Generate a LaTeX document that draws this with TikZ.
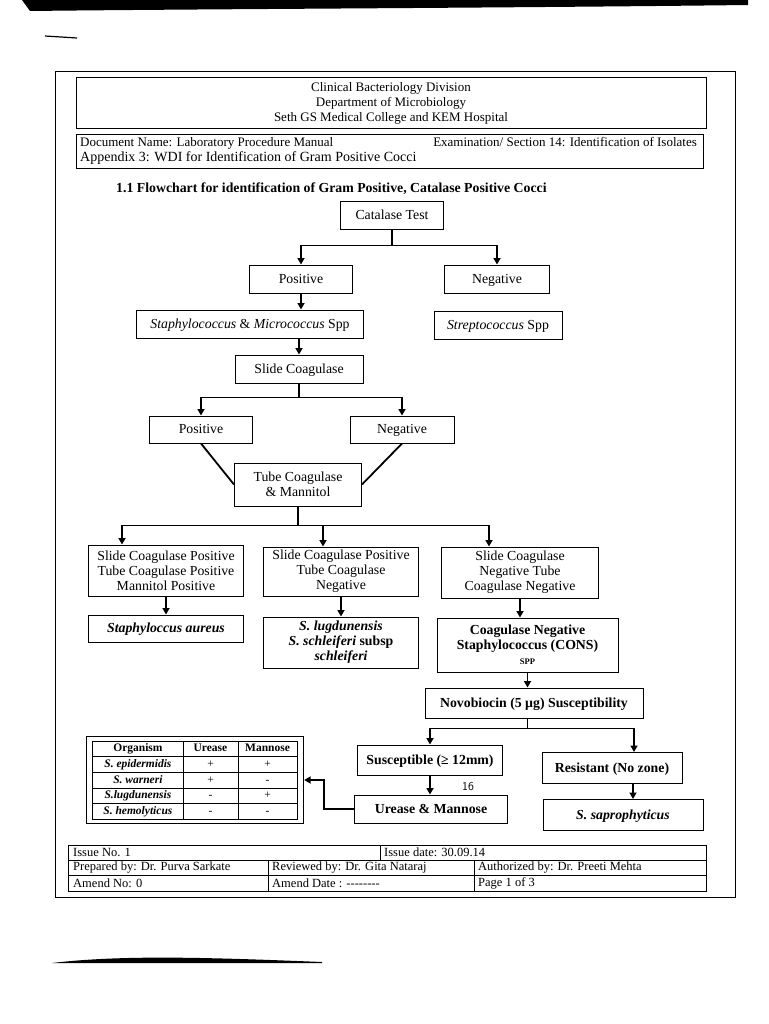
\documentclass[tikz,border=0pt]{standalone}
\usepackage{fontspec}
\setmainfont{Liberation Serif}
\usepackage{array}
\usetikzlibrary{arrows.meta}

\newcommand{\flowfont}{\fontsize{13.8}{15}\selectfont}
\newcommand{\headfont}{\fontsize{13}{15}\selectfont}
\newcommand{\appxfont}{\fontsize{14}{16}\selectfont}
\newcommand{\tablefont}{\fontsize{11.5}{15}\selectfont}
\newcommand{\footfont}{\fontsize{12.5}{15}\selectfont}
\newcommand{\blankdate}{-\kern0pt-\kern0pt-\kern0pt-\kern0pt-\kern0pt-\kern0pt-\kern0pt-}
\newcolumntype{C}[1]{>{\centering\arraybackslash}p{#1}}
\setlength{\arrayrulewidth}{0.6pt}
\setlength{\tabcolsep}{2pt}

\begin{document}
\begin{tikzpicture}[x=1pt,y=-1pt,
  box/.style={draw,line width=1pt,align=center,inner sep=0pt,font=\flowfont},
  boldbox/.style={box,font=\bfseries\flowfont},
  oneline/.style={text height=10.5pt,text depth=2.5pt},
  boxsize/.style 2 args={minimum width=#1pt,minimum height=#2pt},
  link/.style={line width=1.8pt},
  arrow/.style={link,-{Triangle[length=6.5pt,width=7pt]}},
  frame/.style={line width=0.9pt},
  label/.style={inner sep=0pt,anchor=west}]
  \useasboundingbox (0,0) rectangle (768,1024);
  % edges of the scanned sheet
  \fill (22,0) -- (748,0) -- (748,5) .. controls (500,8) and (200,9) .. (30,11) -- cycle;
  \draw[line width=1.2pt] (45,36) -- (77,38);
  \fill (52,963) .. controls (120,955) and (200,957) .. (322,962) -- (322,963) -- cycle;
  \draw[frame] (55,71) rectangle (735,897);

  % header
  \draw[frame] (76,77) rectangle (706,128);
  \node[font=\headfont,align=center,inner sep=0pt] (division) at (391,103)
    {Clinical Bacteriology Division\\Department of Microbiology\\Seth GS Medical College and KEM Hospital};
  \draw[frame] (76,134) rectangle (703,168);
  \node[label,font=\headfont] (docname) at (80,143) {Document Name: Laboratory Procedure Manual};
  \node[label,anchor=east,font=\headfont] (section) at (697,142) {Examination/ Section 14: Identification of Isolates};
  \node[label,font=\appxfont] (appendix) at (80,158) {Appendix 3: WDI for Identification of Gram Positive Cocci};
  \node[label,font=\bfseries\flowfont] (title) at (116,189) {1.1 Flowchart for identification of Gram Positive, Catalase Positive Cocci};

  % catalase
  \node[box,oneline,boxsize={103}{28}] (catalase) at (392,216) {Catalase Test};
  \node[box,oneline,boxsize={103}{28}] (cpos) at (301,279) {Positive};
  \node[box,oneline,boxsize={105}{28}] (cneg) at (497,279) {Negative};
  \node[box,oneline,boxsize={227}{28}] (staphmicro) at (250,324) {\textit{Staphylococcus} \& \textit{Micrococcus} Spp};
  \node[box,oneline,boxsize={128}{28}] (strepto) at (498,325) {\textit{Streptococcus} Spp};
  \draw[link] (catalase.south) -- ++(0,15) coordinate (catfork);
  \draw[arrow] (catfork) -| (cpos.north);
  \draw[arrow] (catfork) -| (cneg.north);
  \draw[arrow] (cpos.south) -- (cpos.south |- staphmicro.north);

  % slide and tube coagulase
  \node[box,oneline,boxsize={128}{28}] (slidecoag) at (299,369) {Slide Coagulase};
  \node[box,oneline,boxsize={103}{27}] (spos) at (201,429.5) {Positive};
  \node[box,oneline,boxsize={104}{27}] (sneg) at (402,429.5) {Negative};
  \node[box,boxsize={127}{43}] (tubecoag) at (298,484.5) {Tube Coagulase\\\& Mannitol};
  \draw[arrow] (staphmicro.south -| slidecoag.north) -- (slidecoag.north);
  \draw[link] (slidecoag.south) -- ++(0,14) coordinate (slidefork);
  \draw[arrow] (slidefork) -| (spos.north);
  \draw[arrow] (slidefork) -| (sneg.north);
  \draw[link] (spos.south) -- (tubecoag.west);
  \draw[link] (sneg.south) -- (tubecoag.east);

  % results
  \node[box,boxsize={155}{51}] (resA) at (166,570.5) {Slide Coagulase Positive\\Tube Coagulase Positive\\Mannitol Positive};
  \node[box,boxsize={155}{49}] (resB) at (341,571.5) {Slide Coagulase Positive\\Tube Coagulase\\Negative};
  \node[box,boxsize={157}{51}] (resC) at (520,572.5) {Slide Coagulase\\Negative Tube\\Coagulase Negative};
  \node[boldbox,oneline,boxsize={155}{27},font=\bfseries\itshape\flowfont] (aureus) at (166,628.5) {Staphyloccus aureus};
  \node[boldbox,boxsize={155}{51}] (lugdun) at (341,642.5)
    {\textit{S. lugdunensis}\\\textit{S. schleiferi} subsp\\\textit{schleiferi}};
  \node[boldbox,boxsize={181}{54}] (cons) at (527.5,645)
    {Coagulase Negative\\Staphylococcus (CONS)\\{\fontsize{8.5}{10}\selectfont SPP}};
  \draw[link] (tubecoag.south) -- ++(0,19) coordinate (tubefork);
  \draw[arrow] (tubefork) -| ([xshift=34pt]resA.north west);
  \draw[arrow] (tubefork) -| ([xshift=-18pt]resB.north);
  \draw[arrow] (tubefork) -| ([xshift=-31pt]resC.north);
  \draw[arrow] (resA.south) -- (aureus.north);
  \draw[arrow] (resB.south) -- (lugdun.north);
  \draw[arrow] (resC.south) -- (resC.south |- cons.north);

  % novobiocin
  \node[boldbox,oneline,boxsize={218}{30}] (novobiocin) at (534,703) {Novobiocin (5 µg) Susceptibility};
  \node[boldbox,oneline,boxsize={145}{30}] (suscept) at (430,760) {Susceptible (≥ 12mm)};
  \node[boldbox,oneline,boxsize={140}{31}] (resist) at (612,768) {Resistant (No zone)};
  \node[boldbox,oneline,boxsize={153}{28}] (ureasemann) at (431,809) {Urease \& Mannose};
  \node[boldbox,oneline,boxsize={160}{31},font=\bfseries\itshape\flowfont] (sapro) at (623,815) {S. saprophyticus};
  \node[font=\sffamily\fontsize{12}{12}\selectfont,inner sep=0pt] (note) at (468,787) {16};
  \draw[arrow] (cons.south) -- (cons.south |- novobiocin.north);
  \draw[link] (novobiocin.south -| cons.south) -- ++(0,10) coordinate (novofork);
  \draw[arrow] (novofork) -| (suscept.north);
  \draw[arrow] (novofork) -| ([xshift=22pt]resist.north);
  \draw[arrow] (suscept.south) -- (suscept.south |- ureasemann.north);
  \draw[arrow] ([xshift=21pt]resist.south) -- ([xshift=21pt]resist.south |- sapro.north);

  % urease and mannose table
  \node[draw,line width=0.9pt,inner xsep=6pt,inner ysep=4pt,font=\tablefont] (organisms) at (195,780) {%
    \begin{tabular}{|C{86pt}|C{50pt}|C{55pt}|}
      \hline
      \textbf{Organism} & \textbf{Urease} & \textbf{Mannose}\\ \hline
      \textbf{\textit{S. epidermidis}} & + & + \\ \hline
      \textbf{\textit{S. warneri}} & + & - \\ \hline
      \textbf{\textit{S.lugdunensis}} & - & + \\ \hline
      \textbf{\textit{S. hemolyticus}} & - & - \\ \hline
    \end{tabular}};
  \draw[arrow] (ureasemann.west) -- ++(-30,0) |- (organisms.east);

  % footer
  \draw[frame] (68,845) rectangle (706,891);
  \draw[frame] (68,860) -- (706,860);
  \draw[frame] (68,875) -- (706,875);
  \draw[frame] (380,845) -- (380,860);
  \draw[frame] (268,860) -- (268,891);
  \draw[frame] (474,860) -- (474,891);
  \node[label,font=\footfont] (issue) at (73,852.5) {Issue No. 1};
  \node[label,font=\footfont] (issuedate) at (384,852.5) {Issue date: 30.09.14};
  \node[label,font=\footfont] (prepared) at (73,867.5) {Prepared by: Dr. Purva Sarkate};
  \node[label,font=\footfont] (reviewed) at (272,867.5) {Reviewed by: Dr. Gita Nataraj};
  \node[label,font=\footfont] (authorized) at (478,867.5) {Authorized by: Dr. Preeti Mehta};
  \node[label,font=\footfont] (amendno) at (73,883) {Amend No: 0};
  \node[label,font=\footfont] (amenddate) at (272,883) {Amend Date : \blankdate};
  \node[label,font=\footfont] (page) at (478,883) {Page 1 of 3};
\end{tikzpicture}
\end{document}
